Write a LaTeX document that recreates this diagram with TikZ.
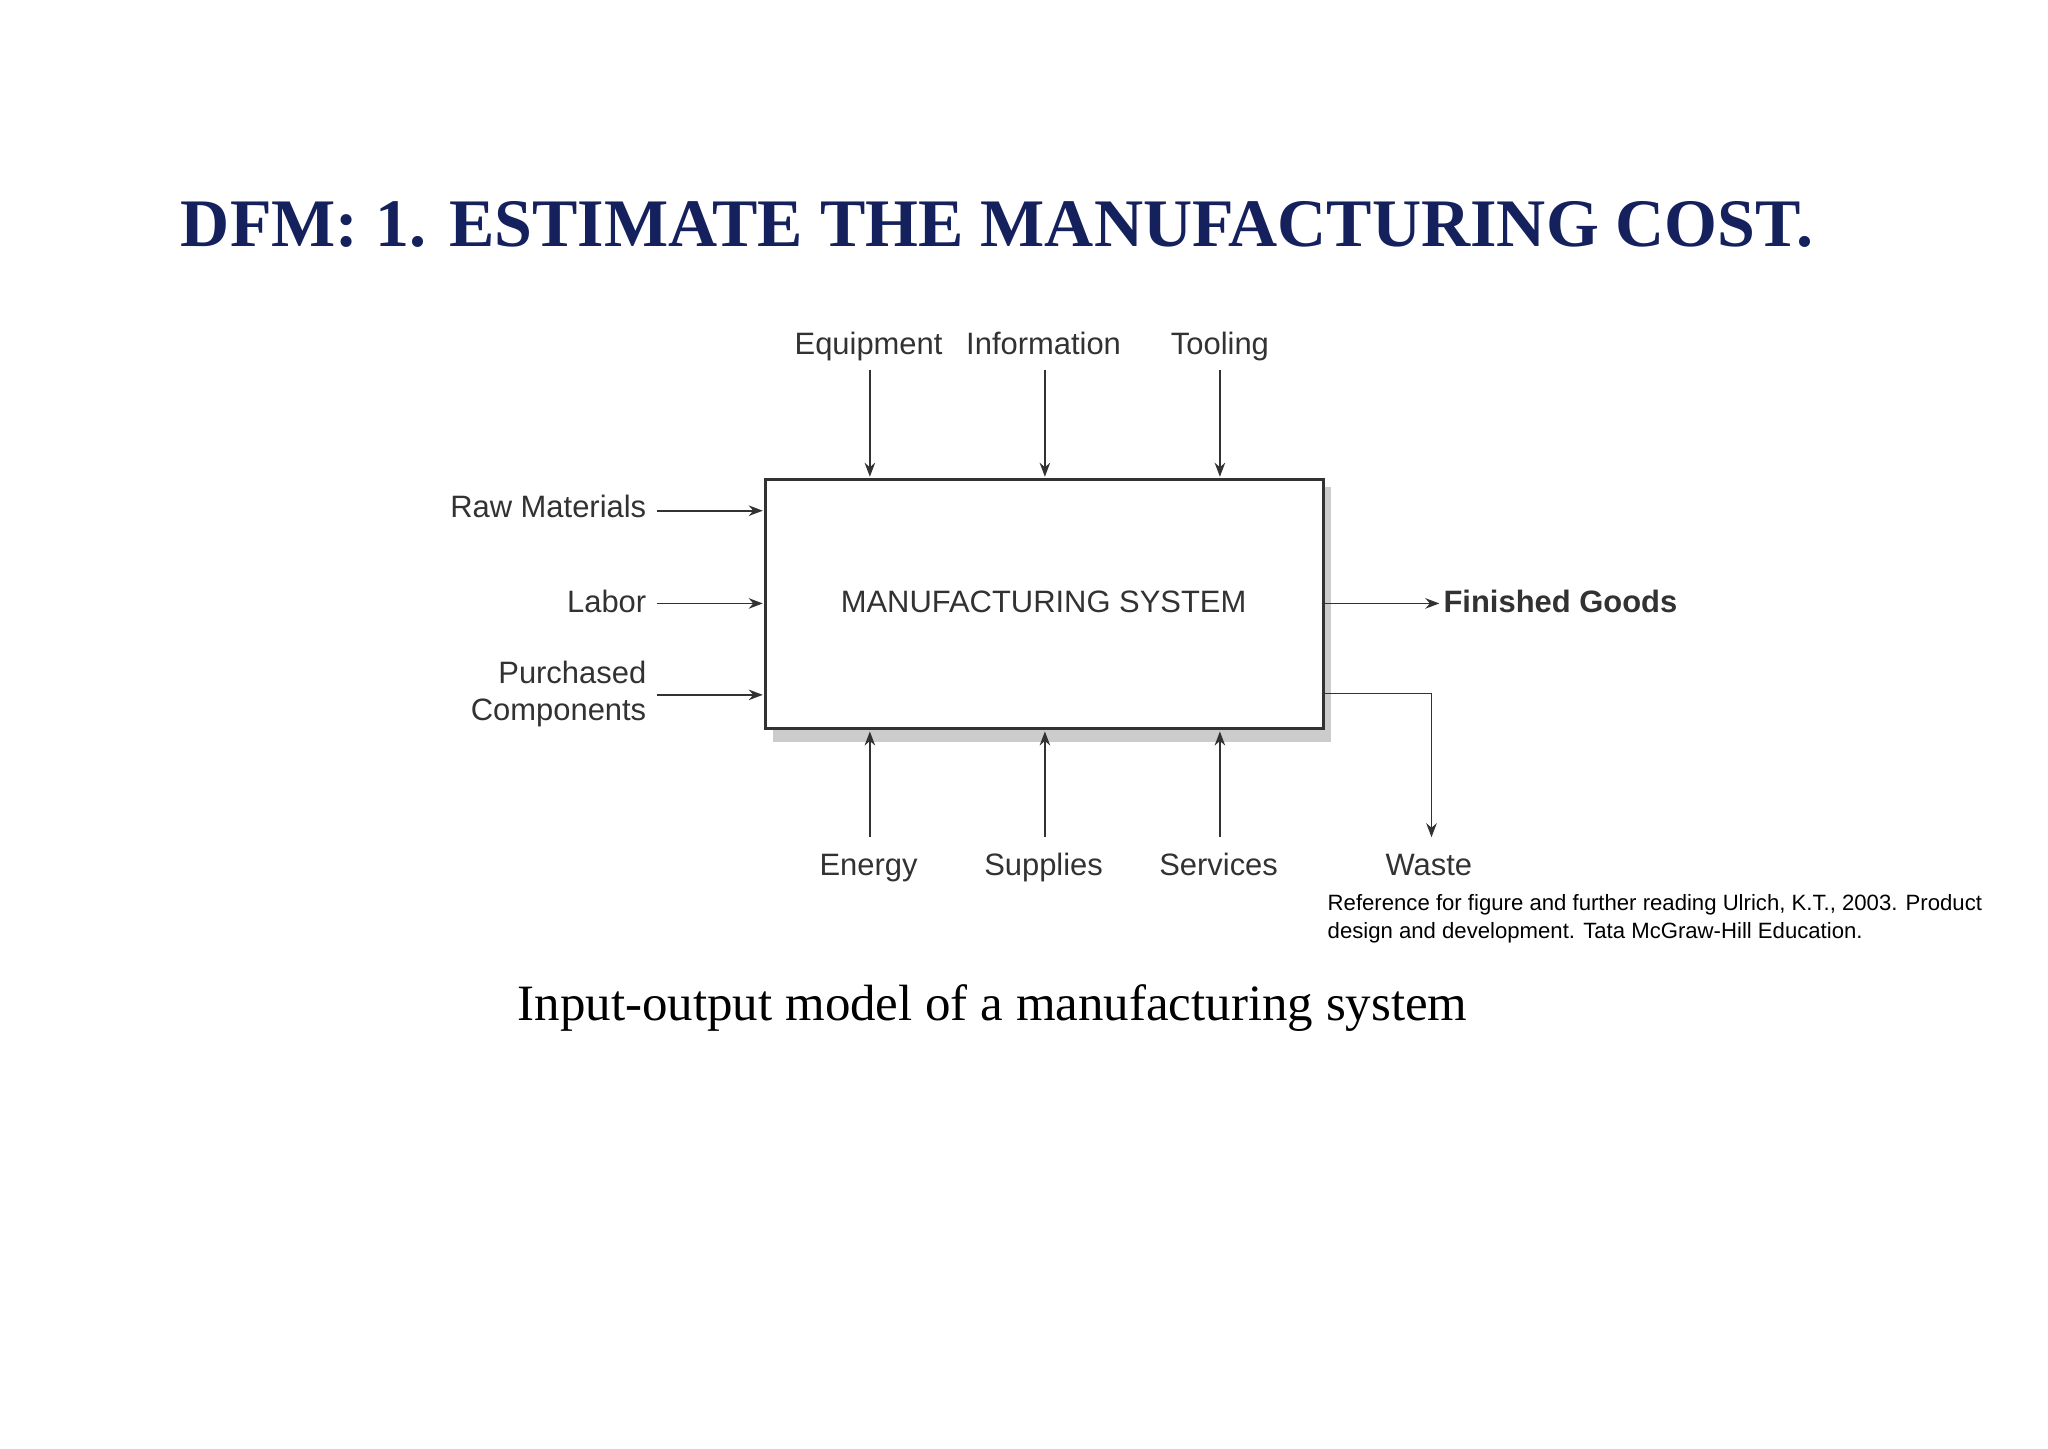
\documentclass[tikz,border=0pt]{standalone}
\usepackage{fontspec}
\setmainfont{Liberation Serif}
\setsansfont{Liberation Sans}
\usetikzlibrary{arrows.meta}
\definecolor{titleblue}{RGB}{20,33,92}
\definecolor{dg}{RGB}{50,50,50}
\begin{document}
\begin{tikzpicture}[x=0.01306cm,y=-0.01306cm,
  lab/.style={font=\sffamily\fontsize{8.8}{10.5}\selectfont,text=dg,inner sep=1pt,text height=1.6ex,text depth=0.45ex},
  arr/.style={draw=dg,line width=0.5pt,-{Stealth[length=4pt,width=3pt]}}]
\useasboundingbox (0,0) rectangle (1568,1109);
\node[font=\bfseries\fontsize{19.35}{23}\selectfont,text=titleblue,anchor=west,inner sep=0] (title) at (138,172) {DFM: 1. ESTIMATE THE MANUFACTURING COST.};
\fill[black!20] (592,373) rectangle (1019,568);
\draw[dg,fill=white,line width=0.8pt] (586,367) rectangle (1013,558);
\node[lab] (box) at (799,462) {MANUFACTURING SYSTEM};
\node[coordinate] (bt1) at (666,365) {}; \node[coordinate] (bt2) at (800,365) {}; \node[coordinate] (bt3) at (934,365) {};
\node[lab] (eq) at (665,264) {Equipment};
\node[lab] (inf) at (799,264) {Information};
\node[lab] (tool) at (934,264) {Tooling};
\draw[arr] (666,283) -- (bt1); \draw[arr] (800,283) -- (bt2); \draw[arr] (934,283) -- (bt3);
\node[lab,anchor=east] (raw) at (498,389) {Raw Materials};
\node[lab,anchor=east] (lab) at (498,462) {Labor};
\node[lab,anchor=east,align=right,text height=,text depth=] (pc) at (498,531) {Purchased\\Components};
\draw[arr] (503,391) -- (584,391);
\draw[arr] (503,462) -- (584,462);
\draw[arr] (503,532) -- (584,532);
\node[lab,anchor=west,font=\sffamily\bfseries\fontsize{8.8}{10.5}\selectfont] (fg) at (1102,462) {Finished Goods};
\draw[arr] (1013,462) -- (fg.west);
\node[lab] (en) at (665,663) {Energy};
\node[lab] (sup) at (799,663) {Supplies};
\node[lab] (ser) at (933,663) {Services};
\node[lab] (waste) at (1094,663) {Waste};
\draw[arr] (666,641) -- (666,560); \draw[arr] (800,641) -- (800,560); \draw[arr] (934,641) -- (934,560);
\draw[arr] (1013,531) -- (1096,531) -- (1096,641);
\node[anchor=north west,align=left,font=\sffamily\fontsize{6.3}{8}\selectfont,inner sep=0] (ref) at (1016,684) {Reference for figure and further reading Ulrich, K.T., 2003. Product\\design and development. Tata McGraw-Hill Education.};
\node[font=\fontsize{14.5}{17}\selectfont] (cap) at (760,772) {Input-output model of a manufacturing system};
\end{tikzpicture}
\end{document}
